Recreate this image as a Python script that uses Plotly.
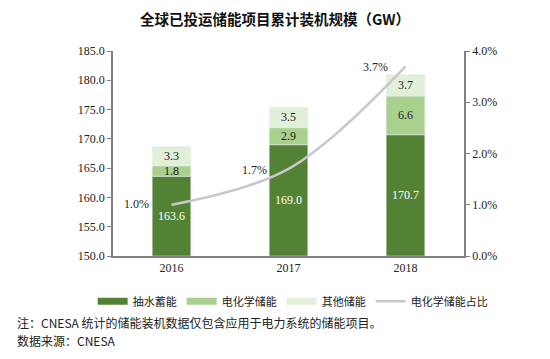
import plotly.graph_objects as go

years = ["2016", "2017", "2018"]
pumped = [163.6, 169.0, 170.7]
electrochem = [1.8, 2.9, 6.6]
others = [3.3, 3.5, 3.7]
share = [0.010, 0.017, 0.037]
share_labels = ["1.0%", "1.7%", "3.7%"]
axis_floor = 150

C_DARK = "#548235"
C_MID = "#A9D18E"
C_LIGHT = "#E2F0D9"
C_LINE = "#C8C8C8"
SERIF = "Liberation Serif, Times New Roman, serif"
CJK = "Noto Sans CJK SC"

base_mid = [p for p in pumped]
base_top = [p + e for p, e in zip(pumped, electrochem)]

fig = go.Figure()
fig.add_bar(x=years, y=[p - axis_floor for p in pumped], base=[axis_floor] * 3,
            name="抽水蓄能", marker_color=C_DARK, width=0.33, showlegend=False, hoverinfo="skip")
fig.add_bar(x=years, y=electrochem, base=base_mid, name="电化学储能", marker_color=C_MID,
            width=0.33, showlegend=False, hoverinfo="skip")
fig.add_bar(x=years, y=others, base=base_top, name="其他储能", marker_color=C_LIGHT,
            width=0.33, showlegend=False, hoverinfo="skip")
fig.add_scatter(x=years, y=share, name="电化学储能占比", yaxis="y2", mode="lines",
                line=dict(color=C_LINE, width=2.5, shape="spline", smoothing=1.0),
                showlegend=False, hoverinfo="skip")

# legend entries (wide rectangle swatches like the reference)
for nm, col, w in [("抽水蓄能", C_DARK, 7), ("电化学储能", C_MID, 7), ("其他储能", C_LIGHT, 7),
                   ("电化学储能占比", C_LINE, 2.5)]:
    fig.add_scatter(x=[None], y=[None], mode="lines", name=nm,
                    line=dict(color=col, width=w), showlegend=True)

ann = []
for i, yr in enumerate(years):
    ann.append(dict(x=i, y=(axis_floor + pumped[i]) / 2, text=f"{pumped[i]:.1f}", showarrow=False,
                    font=dict(color="white", size=12, family=SERIF), yref="y"))
    ann.append(dict(x=i, y=pumped[i] + electrochem[i] / 2, text=f"{electrochem[i]:.1f}", showarrow=False,
                    font=dict(color="#222", size=12, family=SERIF), yref="y"))
    ann.append(dict(x=i, y=pumped[i] + electrochem[i] + others[i] / 2, text=f"{others[i]:.1f}", showarrow=False,
                    font=dict(color="#222", size=12, family=SERIF), yref="y"))
ann.append(dict(x=0, y=share[0], yref="y2", text=share_labels[0], showarrow=False,
                xanchor="right", xshift=-21, yshift=1, font=dict(color="#222", size=12, family=SERIF)))
ann.append(dict(x=1, y=share[1], yref="y2", text=share_labels[1], showarrow=False,
                xanchor="right", xshift=-20, yshift=-1, font=dict(color="#222", size=12, family=SERIF)))
ann.append(dict(x=2, y=share[2], yref="y2", text=share_labels[2], showarrow=False,
                xanchor="right", xshift=-16, yshift=-1, font=dict(color="#222", size=12, family=SERIF)))

ann.append(dict(xref="paper", yref="paper", x=-0.28, y=-0.325, xanchor="left", yanchor="middle",
                text="注：CNESA 统计的储能装机数据仅包含应用于电力系统的储能项目。", showarrow=False,
                font=dict(size=12, family=CJK, color="#222")))
ann.append(dict(xref="paper", yref="paper", x=-0.28, y=-0.412, xanchor="left", yanchor="middle",
                text="数据来源：CNESA", showarrow=False,
                font=dict(size=12, family=CJK, color="#222")))

fig.update_layout(
    width=550, height=359,
    margin=dict(l=113, r=86, t=51, b=103),
    paper_bgcolor="white", plot_bgcolor="white",
    barmode="overlay",
    title=dict(text="<b>全球已投运储能项目累计装机规模（GW）</b>", x=0.5, xanchor="center",
               y=0.944, yanchor="middle", font=dict(size=14.5, family=CJK, color="#111")),
    xaxis=dict(type="category", range=[-0.5, 2.5], showline=True, linecolor="#808080", linewidth=1.5,
               ticks="", tickfont=dict(size=12, family=SERIF, color="#222"), showgrid=False),
    yaxis=dict(range=[150, 185], dtick=5, tickformat=".1f", showline=True, linecolor="#808080",
               linewidth=1.5, ticks="outside", ticklen=4, tickcolor="#808080", showgrid=False,
               zeroline=False, tickfont=dict(size=12, family=SERIF, color="#222")),
    yaxis2=dict(range=[0, 0.04], dtick=0.01, tickformat=".1%", overlaying="y", side="right",
                showline=True, linecolor="#808080", linewidth=1.5, ticks="outside", ticklen=4,
                tickcolor="#808080", showgrid=False, zeroline=False,
                tickfont=dict(size=12, family=SERIF, color="#222")),
    legend=dict(orientation="h", x=-0.058, xanchor="left", y=-0.15, yanchor="top",
                font=dict(size=11, family=CJK, color="#222"), itemwidth=30,
                traceorder="normal", bgcolor="rgba(0,0,0,0)"),
    annotations=ann,
    showlegend=True,
)

fig.write_html("out.html", config={"displayModeBar": False},
               post_script="document.body.style.margin='0px';")
